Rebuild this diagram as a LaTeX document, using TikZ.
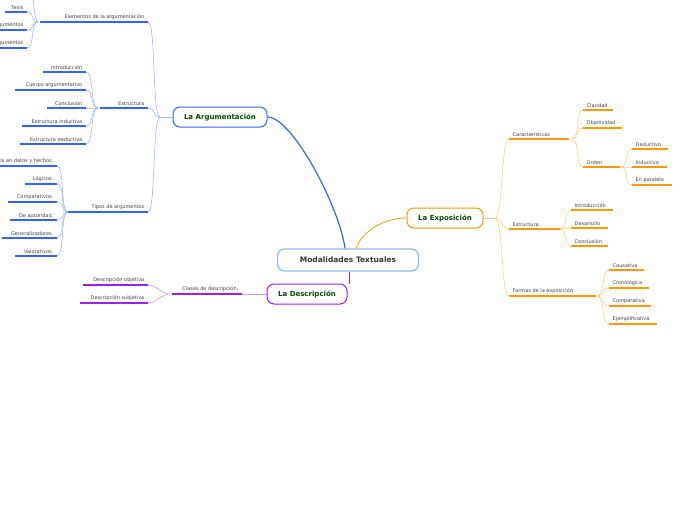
\documentclass[tikz,border=0pt]{standalone}
\usepackage{fontspec}
\setmainfont{DejaVu Sans}
\begin{document}
\begin{tikzpicture}[x=1pt,y=-1pt,
  lbl/.style={font=\fontsize{5}{6}\selectfont, text=black!75, inner sep=0.5pt},
  topic/.style={draw, line width=1pt, rounded corners=7pt, fill=white, minimum height=20pt, inner sep=2pt, font=\bfseries\fontsize{7}{8}\selectfont, text=green!30!black}]
\definecolor{bl}{HTML}{3366EE}\definecolor{blc}{HTML}{99BBFF}
\definecolor{or}{HTML}{FF9900}\definecolor{orc}{HTML}{FFCC88}
\definecolor{pu}{HTML}{9922EE}\definecolor{puc}{HTML}{CC99FF}
\definecolor{mb}{HTML}{88BBE8}
\useasboundingbox (0,0) rectangle (697,520);
\newcommand\lleaf[6]{\coordinate (#1-l) at (#2,#4);\coordinate (#1-r) at (#3,#4);
  \draw[#6,line width=1.2pt] (#1-l) -- (#1-r);
  \node[lbl,anchor=south east] (#1-t) at (#3-3,#4-1.5) {#5};}
\newcommand\rleaf[6]{\coordinate (#1-l) at (#2,#4);\coordinate (#1-r) at (#3,#4);
  \draw[#6,line width=1.2pt] (#1-l) -- (#1-r);
  \node[lbl,anchor=south west] (#1-t) at (#2+3,#4-1.5) {#5};}
\newcommand\lconn[3]{\draw[#1,line width=0.6pt] (#2) .. controls +(-8,0) and +(8,0) .. (#3);}
\newcommand\rconn[3]{\draw[#1,line width=0.6pt] (#2) .. controls +(8,0) and +(-8,0) .. (#3);}
% main
\node[draw=mb,line width=1.2pt,rounded corners=7pt,minimum width=141pt,minimum height=22pt,font=\bfseries\fontsize{7.5}{9}\selectfont,text=black!80] (main) at (348,260) {Modalidades Textuales};
\node[topic,draw=bl,minimum width=94pt] (arg) at (220,117) {La Argumentación};
\node[topic,draw=or,minimum width=76pt] (exp) at (445,218) {La Exposición};
\node[topic,draw=pu,minimum width=80pt] (des) at (307,294) {La Descripción};
\draw[bl,line width=1.2pt] (arg.east) .. controls +(25,0) and +(-5,-40) .. ([xshift=-3pt]main.north);
\draw[or,line width=0.8pt] (exp.west) .. controls +(-25,0) and +(5,-15) .. ([xshift=8pt]main.north);
\draw[pu,line width=1pt] ([xshift=42pt]des.north) -- ([xshift=1pt]main.south);
% Argumentacion
\coordinate (ah) at (160,117);
\draw[blc,line width=0.8pt] (arg.west) -- (ah);
\lleaf{el}{40}{148}{22}{Elementos de la argumentación}{bl}
\lleaf{es}{100}{148}{108}{Estructura}{bl}
\lleaf{ti}{68}{148}{212}{Tipos de argumentos}{bl}
\foreach \n in {el,es,ti}{\lconn{blc}{ah}{\n-r}}
\coordinate (elh) at (38,22);
\coordinate (eltop) at (33,-4);
\draw[blc,line width=0.6pt] (elh) .. controls (34,18) and (34,5) .. (eltop);
\lleaf{e1}{5}{27}{12}{Tesis}{bl}
\lleaf{e2}{-20}{27}{30}{Argumentos}{bl}
\lleaf{e3}{-20}{27}{48}{Contraargumentos}{bl}
\foreach \n in {e1,e2,e3}{\lconn{blc}{elh}{\n-r}}
\coordinate (esh) at (98,108);
\lleaf{s1}{43}{86}{72}{Introducción}{bl}
\lleaf{s2}{15}{86}{90}{Cuerpo argumentativo}{bl}
\lleaf{s3}{47}{86}{108}{Conclusión}{bl}
\lleaf{s4}{22}{86}{126}{Estructura inductiva}{bl}
\lleaf{s5}{20}{86}{144}{Estructura deductiva}{bl}
\foreach \n in {s1,s2,s3,s4,s5}{\lconn{blc}{esh}{\n-r}}
\coordinate (tih) at (68,212);
\lleaf{t1}{-20}{57}{166}{Basados en datos y hechos.}{bl}
\lleaf{t2}{25}{57}{184}{Lógicos.}{bl}
\lleaf{t3}{8}{57}{202}{Comparativos.}{bl}
\lleaf{t4}{10}{57}{220}{De autoridad.}{bl}
\lleaf{t5}{2}{57}{238}{Generalizadores.}{bl}
\lleaf{t6}{15}{57}{256}{Valorativos.}{bl}
\foreach \n in {t1,t2,t3,t4,t5,t6}{\lconn{blc}{tih}{\n-r}}
% Exposicion
\coordinate (xh) at (495,218);
\draw[orc,line width=0.8pt] (exp.east) -- (xh);
\rleaf{ca}{509}{569}{139}{Características}{or}
\rleaf{xe}{509}{560}{229}{Estructura}{or}
\rleaf{fo}{509}{596}{296}{Formas de la exposición}{or}
\foreach \n in {ca,xe,fo}{\rconn{orc}{xh}{\n-l}}
\coordinate (cah) at (572,139);
\rleaf{c1}{583}{613}{110}{Claridad}{or}
\rleaf{c2}{583}{622}{128}{Objetividad}{or}
\rleaf{c3}{583}{620}{167}{Orden}{or}
\foreach \n in {c1,c2,c3}{\rconn{orc}{cah}{\n-l}}
\coordinate (orh) at (621,167);
\rleaf{o1}{632}{668}{149}{Deductivo}{or}
\rleaf{o2}{632}{667}{167}{Inductivo}{or}
\rleaf{o3}{632}{672}{185}{En paralelo}{or}
\foreach \n in {o1,o2,o3}{\rconn{orc}{orh}{\n-l}}
\coordinate (xeh) at (560,229);
\rleaf{x1}{571}{613}{210}{Introducción}{or}
\rleaf{x2}{571}{608}{228}{Desarrollo}{or}
\rleaf{x3}{571}{608}{246}{Conclusión}{or}
\foreach \n in {x1,x2,x3}{\rconn{orc}{xeh}{\n-l}}
\coordinate (foh) at (597,296);
\rleaf{f1}{609}{644}{270}{Causativa}{or}
\rleaf{f2}{609}{649}{288}{Cronológica}{or}
\rleaf{f3}{609}{651}{306}{Comparativa}{or}
\rleaf{f4}{609}{657}{324}{Ejemplificativa}{or}
\foreach \n in {f1,f2,f3,f4}{\rconn{orc}{foh}{\n-l}}
% Descripcion
\lleaf{cl}{172}{242}{294}{Clases de descripción.}{pu}
\draw[puc,line width=0.8pt] (des.west) -- (cl-r);
\coordinate (clh) at (170,294);
\lleaf{d1}{83}{148}{285}{Descripción objetiva}{pu}
\lleaf{d2}{80}{148}{303}{Descripción subjetiva}{pu}
\foreach \n in {d1,d2}{\lconn{puc}{clh}{\n-r}}
\end{tikzpicture}
\end{document}
